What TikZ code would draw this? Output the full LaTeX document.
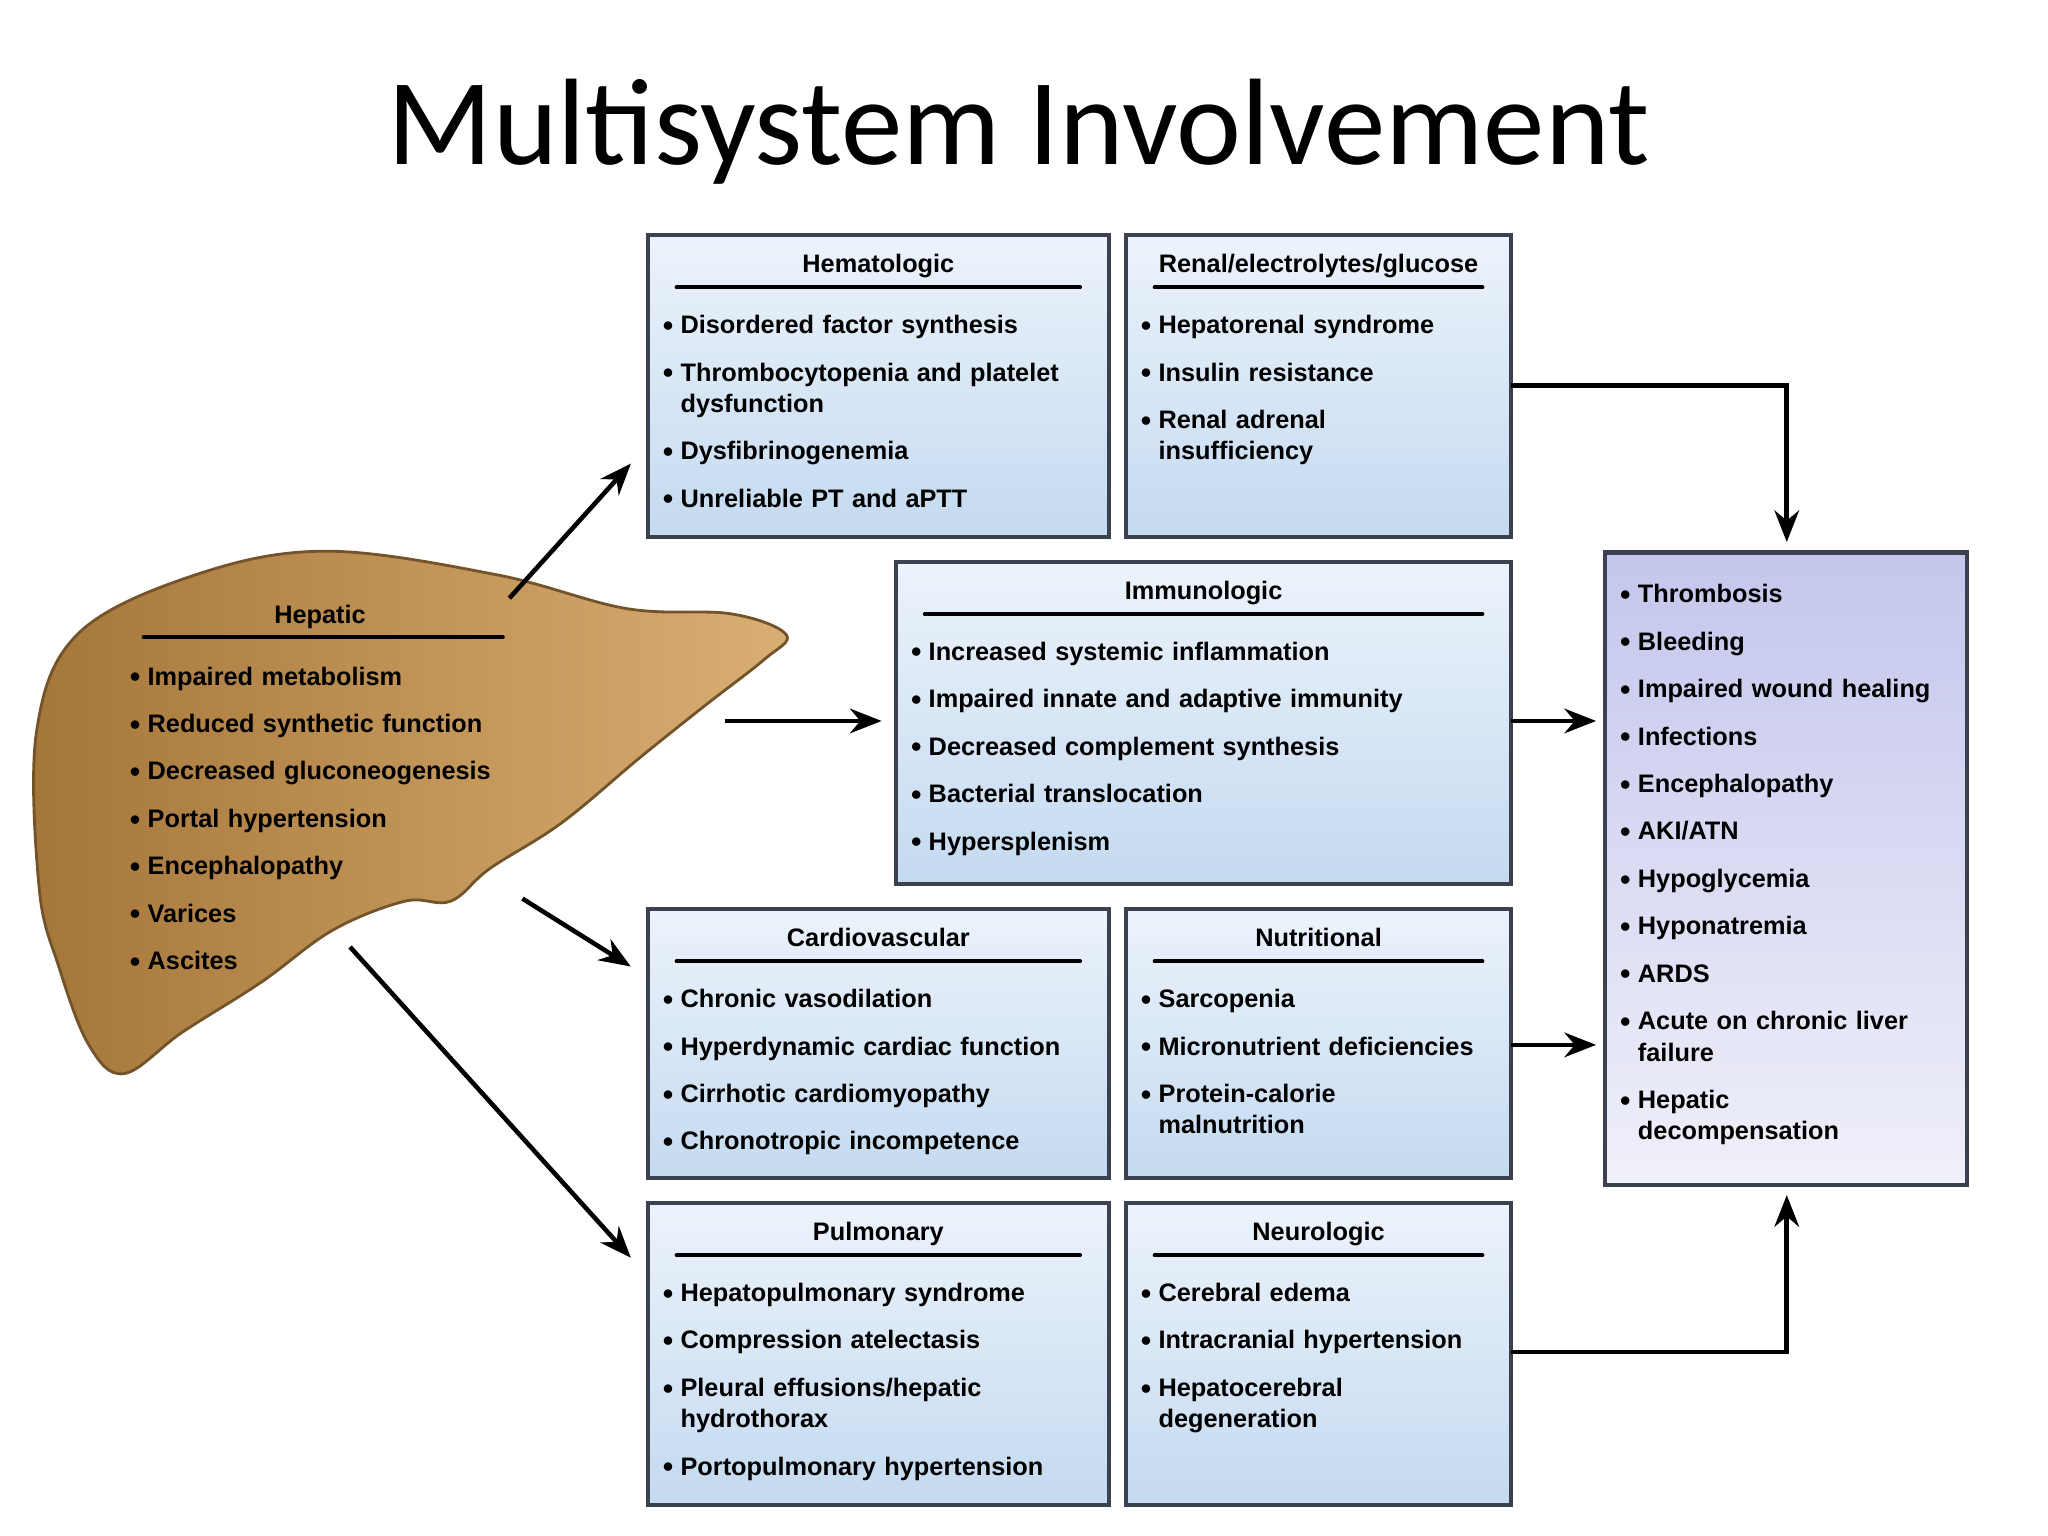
\documentclass[tikz,border=0pt]{standalone}
\usepackage{fontspec}
\setmainfont{Liberation Sans}
\newfontfamily\titlefont{Carlito}
\usetikzlibrary{arrows.meta}
\definecolor{bord}{RGB}{60,65,80}
\definecolor{btop}{RGB}{236,243,251}
\definecolor{bbot}{RGB}{196,218,240}
\definecolor{rtop}{RGB}{196,198,236}
\definecolor{rbot}{RGB}{240,240,250}
\definecolor{livA}{RGB}{165,118,58}
\definecolor{livB}{RGB}{218,175,115}
\newcommand{\itm}[1]{\par\hangindent=0.75em\hangafter=1\noindent\makebox[0.75em][l]{\raisebox{0.25ex}{\tiny$\bullet$}}#1\par\vspace{4.6pt}}
\tikzset{
 box/.style={draw=bord,line width=1.2pt,top color=btop,bottom color=bbot},
 rbox/.style={draw=bord,line width=1.2pt,top color=rtop,bottom color=rbot},
 head/.style={font=\bfseries\fontsize{7.2}{8.9}\selectfont,anchor=base},
 body/.style={font=\bfseries\fontsize{7.2}{8.9}\selectfont,anchor=north west,align=left,inner sep=0pt,text width=170pt},
 rule/.style={line width=1.1pt,line cap=round},
 arr/.style={-{Stealth[length=9pt,width=7pt]},line width=1.3pt}
}
\begin{document}
\begin{tikzpicture}[x=0.01306cm,y=-0.01306cm]
\useasboundingbox (0,0) rectangle (1568,1176);
\fill[white] (0,0) rectangle (1568,1176);
\node[font=\titlefont\fontsize{35}{38}\selectfont] (title) at (780,101) {Multisystem Involvement};
% liver
\path[draw=livA!70!black,line width=0.8pt,left color=livA,right color=livB]
 plot[smooth cycle,tension=0.6] coordinates {(28,560) (60,485) (150,440) (250,422) (380,440) (480,466) (560,470) (602,486) (585,505) (540,540) (490,580) (430,630) (375,665) (345,690) (310,690) (255,712) (200,752) (140,790) (95,822) (68,800) (45,740) (30,680)};
\node[head] (hh) at (245,477) {Hepatic};
\draw[rule] (110,488) -- (385,488);
\node[body] (hb) at (98,500) {\itm{Impaired metabolism}\itm{Reduced synthetic function}\itm{Decreased gluconeogenesis}\itm{Portal hypertension}\itm{Encephalopathy}\itm{Varices}\itm{Ascites}};
% panels
\newcommand{\panel}[7]{%
 \draw[box] (#2,#3) rectangle (#4,#5);
 \node[inner sep=0] (#1) at ({(#2+#4)/2},{(#3+#5)/2}) {};
 \node[head] (#1h) at ({(#2+#4)/2},#3+29) {#6};
 \draw[rule] ({#2+22},#3+40) -- ({#4-22},#3+40);
 \node[body] (#1b) at (#2+10,#3+51) {#7};}
\panel{hem}{496}{180}{849}{411}{Hematologic}{\itm{Disordered factor synthesis}\itm{Thrombocytopenia and platelet\newline dysfunction}\itm{Dysfibrinogenemia}\itm{Unreliable PT and aPTT}}
\panel{ren}{862}{180}{1157}{411}{Renal/electrolytes/glucose}{\itm{Hepatorenal syndrome}\itm{Insulin resistance}\itm{Renal adrenal\newline insufficiency}}
\panel{imm}{686}{430}{1157}{677}{Immunologic}{\itm{Increased systemic inflammation}\itm{Impaired innate and adaptive immunity}\itm{Decreased complement synthesis}\itm{Bacterial translocation}\itm{Hypersplenism}}
\panel{car}{496}{696}{849}{902}{Cardiovascular}{\itm{Chronic vasodilation}\itm{Hyperdynamic cardiac function}\itm{Cirrhotic cardiomyopathy}\itm{Chronotropic incompetence}}
\panel{nut}{862}{696}{1157}{902}{Nutritional}{\itm{Sarcopenia}\itm{Micronutrient deficiencies}\itm{Protein-calorie\newline malnutrition}}
\panel{pul}{496}{921}{849}{1152}{Pulmonary}{\itm{Hepatopulmonary syndrome}\itm{Compression atelectasis}\itm{Pleural effusions/hepatic\newline hydrothorax}\itm{Portopulmonary hypertension}}
\panel{neu}{862}{921}{1157}{1152}{Neurologic}{\itm{Cerebral edema}\itm{Intracranial hypertension}\itm{Hepatocerebral\newline degeneration}}
\draw[rbox] (1229,423) rectangle (1506,907);
\node[inner sep=0] (out) at (1367,665) {};
\node[body] (outb) at (1239,437) {\itm{Thrombosis}\itm{Bleeding}\itm{Impaired wound healing}\itm{Infections}\itm{Encephalopathy}\itm{AKI/ATN}\itm{Hypoglycemia}\itm{Hyponatremia}\itm{ARDS}\itm{Acute on chronic liver\newline failure}\itm{Hepatic\newline decompensation}};
% arrows
\coordinate (a1) at (390,458); \coordinate (a1e) at (483,355);
\draw[arr] (a1) -- (a1e);
\coordinate (a2) at (555,552); \coordinate (a2e) at (675,552);
\draw[arr] (a2) -- (a2e);
\coordinate (a3) at (400,688); \coordinate (a3e) at (483,740);
\draw[arr] (a3) -- (a3e);
\coordinate (a4) at (268,725); \coordinate (a4e) at (483,963);
\draw[arr] (a4) -- (a4e);
\coordinate (ie) at (1157,552); \coordinate (oe1) at (1222,552);
\draw[arr] (ie) -- (oe1);
\coordinate (ne) at (1157,800); \coordinate (oe2) at (1222,800);
\draw[arr] (ne) -- (oe2);
\coordinate (re) at (1157,295); \coordinate (ot) at (1368,415);
\draw[arr] (re) -| (ot);
\coordinate (nne) at (1157,1035); \coordinate (ob) at (1368,915);
\draw[arr] (nne) -| (ob);
\end{tikzpicture}
\end{document}
